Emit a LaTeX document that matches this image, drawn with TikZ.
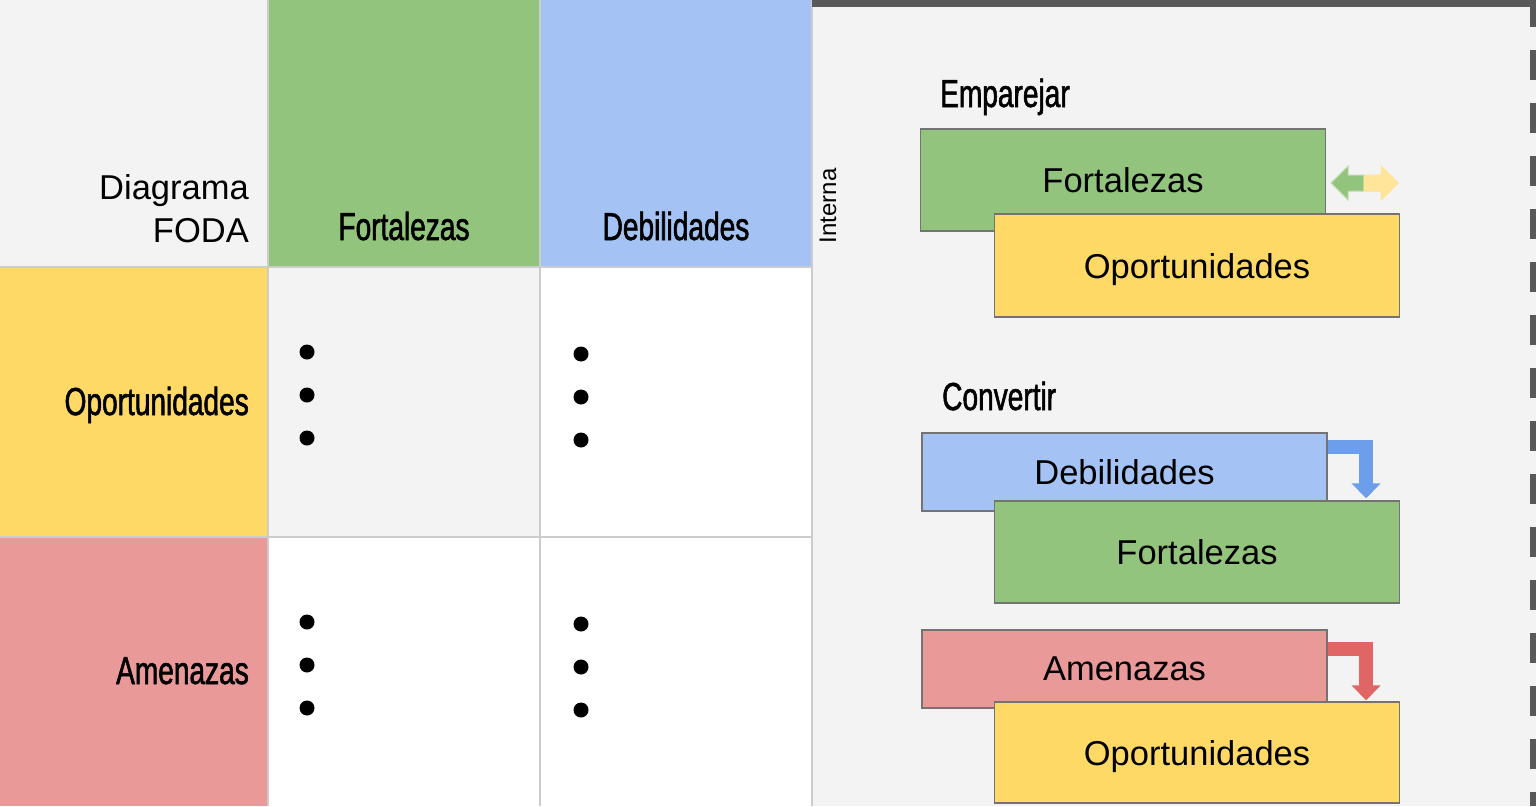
\documentclass[tikz,border=0pt]{standalone}
\usepackage{fontspec}
\setmainfont{Liberation Sans}
\newfontfamily\headfont[FakeStretch=0.72,FakeBold=1.4]{Liberation Sans}
\usetikzlibrary{positioning,calc,arrows.meta}
\definecolor{fgreen}{HTML}{93C47D}
\definecolor{fblue}{HTML}{A4C2F4}
\definecolor{fyellow}{HTML}{FFD966}
\definecolor{fred}{HTML}{EA9999}
\definecolor{fgray}{HTML}{F3F3F3}
\definecolor{fdark}{HTML}{595959}
\definecolor{arrblue}{HTML}{6D9EEB}
\definecolor{arrred}{HTML}{E06666}
\definecolor{lyellow}{HTML}{FFE599}
\definecolor{gridgray}{HTML}{CCCCCC}
\begin{document}
\begin{tikzpicture}[x=1pt,y=-1pt,
    head/.style={font=\headfont\fontsize{39}{44}\selectfont, inner sep=0pt},
    body/.style={font=\fontsize{34.5}{40}\selectfont, inner sep=0pt},
    card/.style={draw=black!55, line width=1.2pt, minimum width=405pt, inner sep=0pt, text depth=0pt, font=\fontsize{34.5}{40}\selectfont},
    elbow/.style={line width=14pt, line join=miter, -{Triangle[width=28pt,length=15pt]}}]
      \useasboundingbox (0,0) rectangle (1536,806);
      \fill[white] (0,0) rectangle (1536,806);

      \fill[fgray] (0,0) rectangle (268,267);
      \fill[fgreen] (268,0) rectangle (540,267);
      \fill[fblue] (540,0) rectangle (812,267);
      \fill[fyellow] (0,267) rectangle (268,537);
      \fill[fred] (0,537) rectangle (268,806);
      \fill[fgray] (268,267) rectangle (540,537);
      \draw[gridgray, line width=1.5pt] (268,0)--(268,806);
      \draw[gridgray, line width=1.5pt] (540,0)--(540,806);
      \draw[gridgray, line width=1.5pt] (0,267)--(812,267);
      \draw[gridgray, line width=1.5pt] (0,537)--(812,537);

      \node[body, anchor=base east] (diag1) at (249,199) {Diagrama};
      \node[body, anchor=base east] (diag2) at (249,242) {FODA};
      \node[head, anchor=base] (hfort) at (404,240) {Fortalezas};
      \node[head, anchor=base] (hdeb) at (676,240) {Debilidades};
      \node[head, anchor=base east] (hopor) at (249,415) {Oportunidades};
      \node[head, anchor=base east] (hamen) at (249,684) {Amenazas};

      \foreach \bx/\by in {307/352, 581/354, 307/622, 581/624}
        \foreach \k in {0,1,2}
          \fill (\bx,\by+43*\k) circle[radius=7.5pt];

      \fill[fgray] (812,0) rectangle (1536,806);
      \draw[gridgray, line width=1.5pt] (812,0)--(812,806);
      \fill[fdark] (812,0) rectangle (1536,7);
      \draw[fdark, line width=6pt, dash pattern=on 30pt off 23pt, dash phase=3pt] (1533,0)--(1533,806);

      \node[rotate=90, font=\fontsize{24}{28}\selectfont, inner sep=0pt] (intern) at (828,206) {Interna};

      \node[head, anchor=base west] (temp) at (940,107) {Emparejar};
      \node[card, fill=fgreen, minimum height=102pt] (mfort) at (1123,180) {Fortalezas};
      \node[card, fill=fyellow, minimum height=103pt] (mopor) at (1197,265.5) {Oportunidades};
      \coordinate (mid) at ($(mfort.east)+(38,3)$);
      \filldraw[fill=fgreen, draw=fgreen!60!white, line width=1pt] (mid) ++(0,-8) -- ++(-16,0) -- ++(0,-9) -- ++(-17,17) -- ++(17,17) -- ++(0,-9) -- ++(16,0) -- cycle;
      \filldraw[fill=lyellow, draw=fyellow!70!white, line width=1pt] (mid) ++(0,-8) -- ++(17,0) -- ++(0,-9) -- ++(17,17) -- ++(-17,17) -- ++(0,-9) -- ++(-17,0) -- cycle;

      \node[head, anchor=base west] (tconv) at (942,410) {Convertir};
      \node[card, fill=fblue, minimum height=78pt] (cdeb) at (1124.5,472) {Debilidades};
      \node[card, fill=fgreen, minimum height=102pt] (cfort) at (1197,552) {Fortalezas};
      \draw[elbow, arrblue] ($(cdeb.north east)+(0,15)$) -| ($(cfort.north east)+(-34,-2)$);

      \node[card, fill=fred, minimum height=78pt] (camen) at (1124.5,669) {Amenazas};
      \node[card, fill=fyellow, minimum height=101pt] (copor) at (1197,752.5) {Oportunidades};
      \draw[elbow, arrred] ($(camen.north east)+(0,20)$) -| ($(copor.north east)+(-34,-1)$);
\end{tikzpicture}
\end{document}
